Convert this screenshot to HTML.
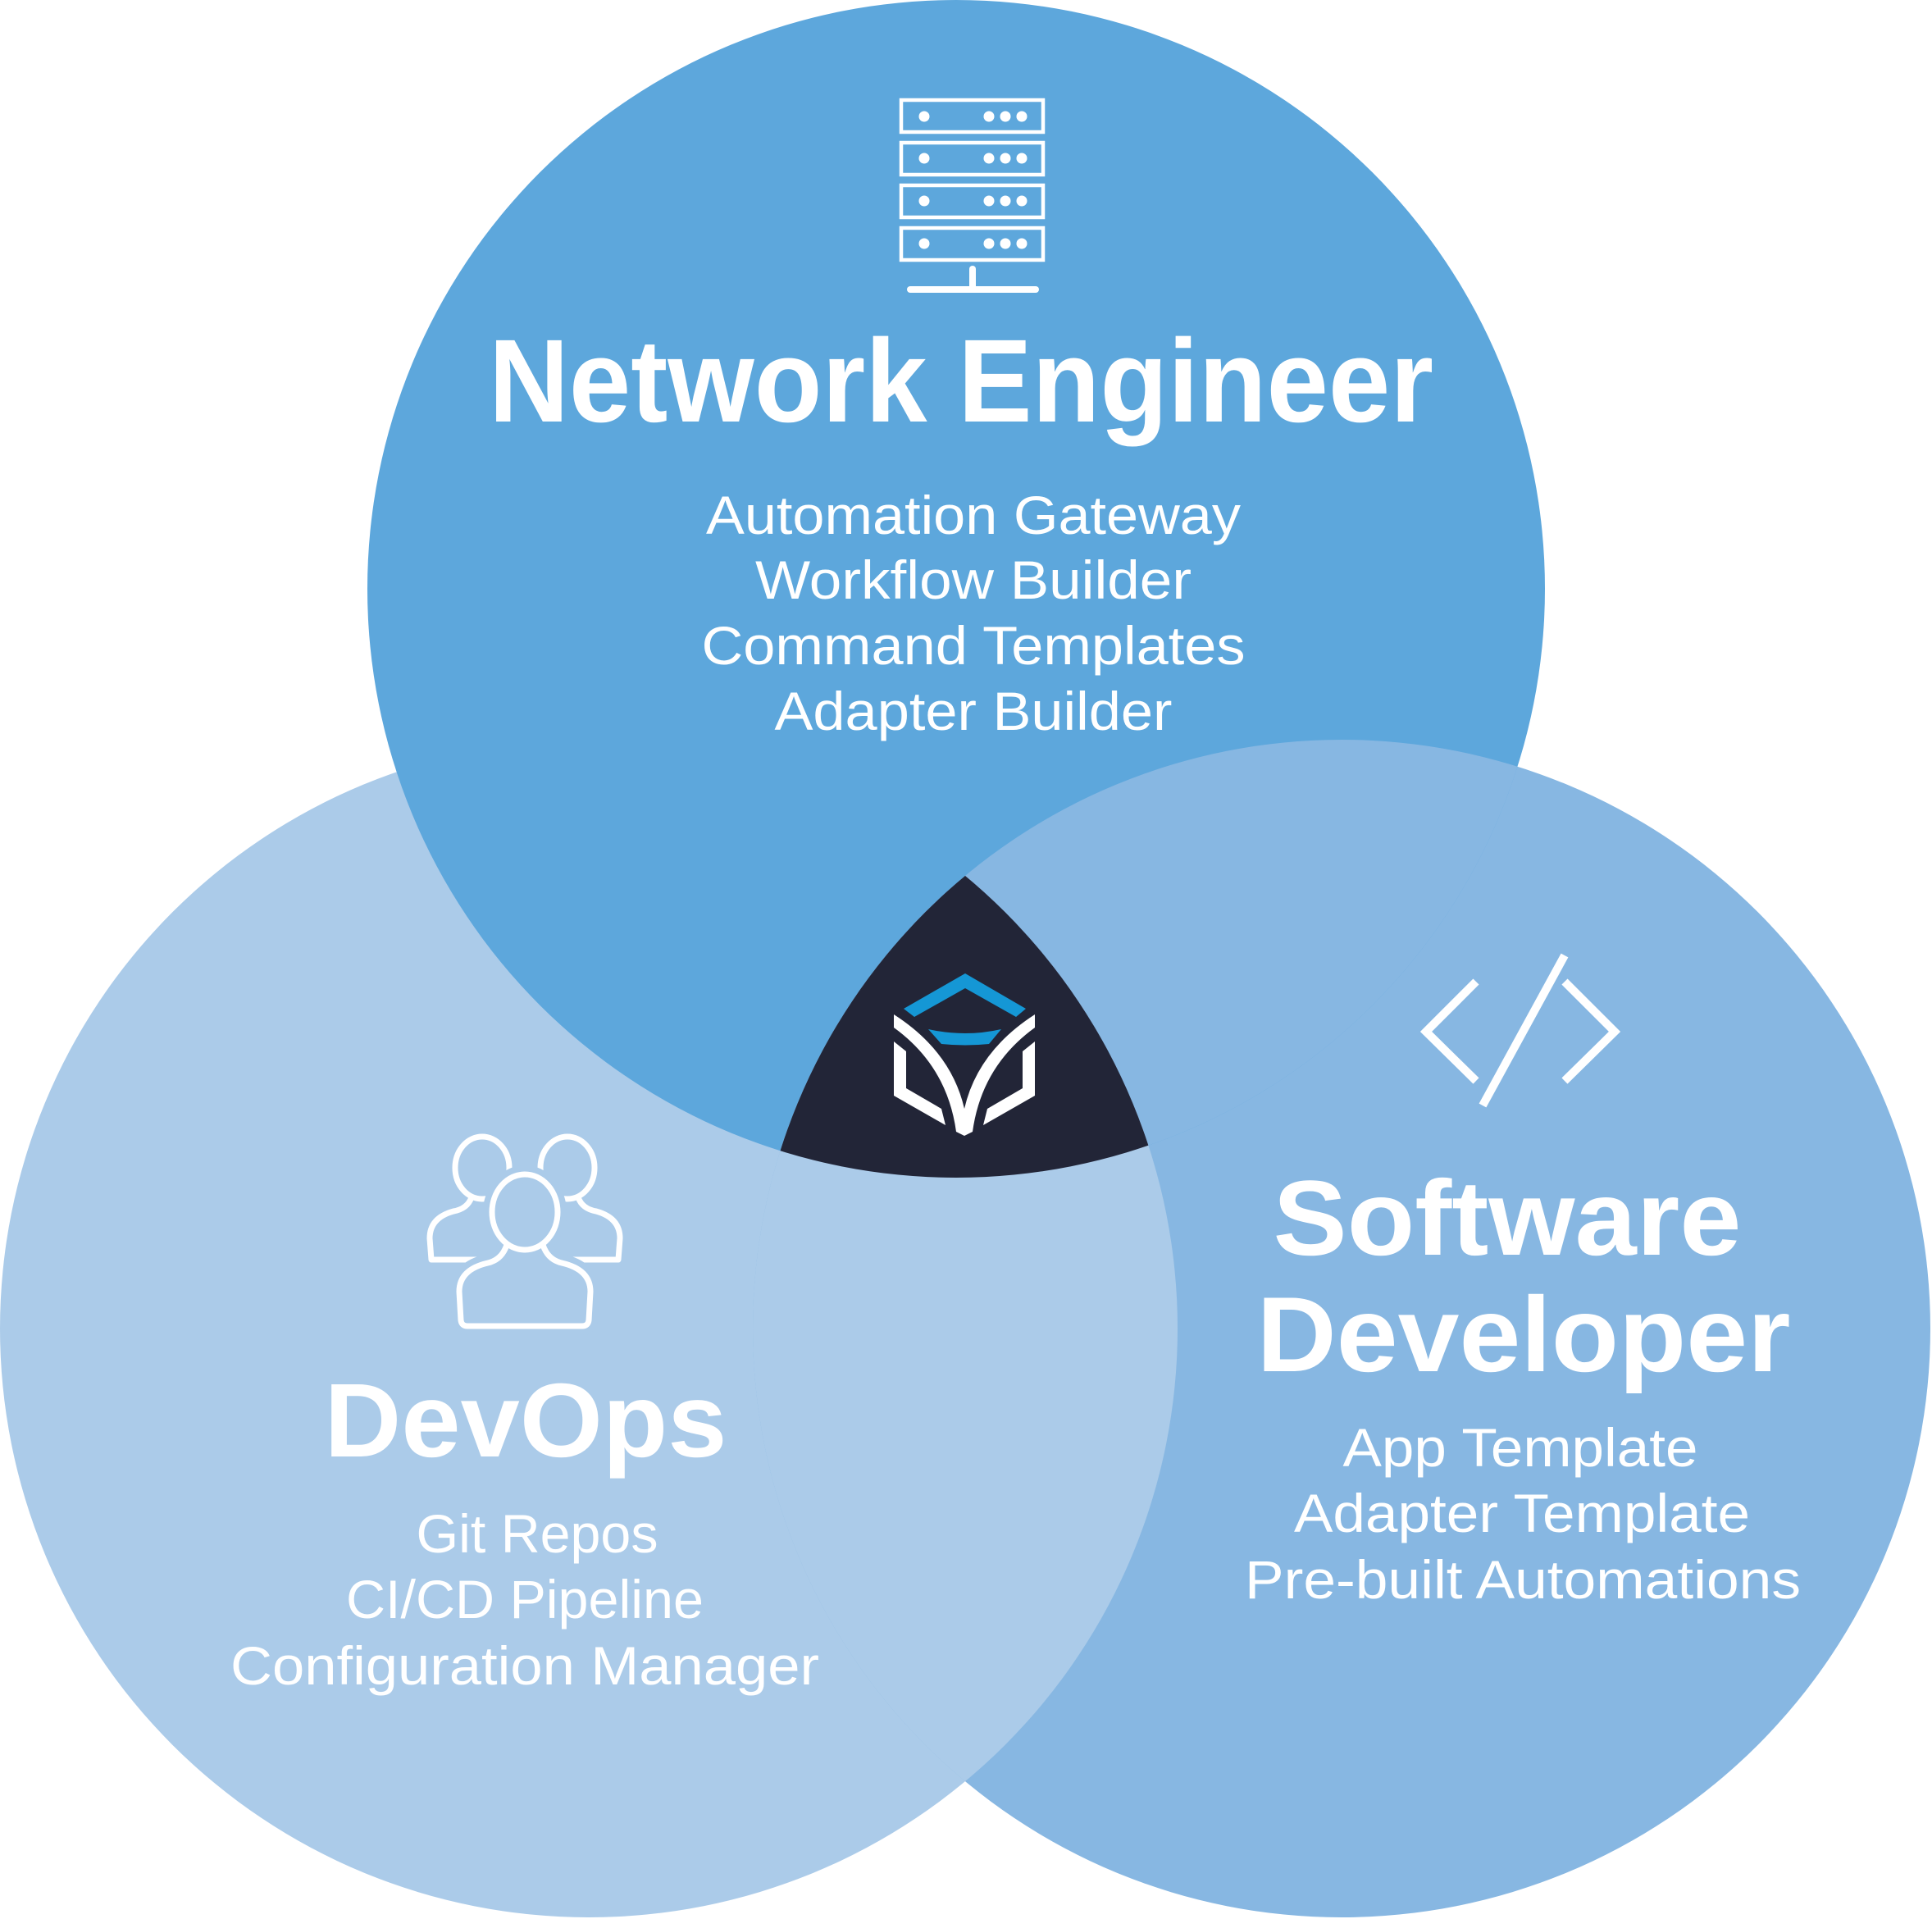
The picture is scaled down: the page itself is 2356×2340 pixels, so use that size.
<!DOCTYPE html>
<html><head><meta charset="utf-8"><style>
html,body{margin:0;padding:0;background:#fff;}
svg{display:block;}
text{font-family:"Liberation Sans",sans-serif;fill:#fff;}
</style></head><body>
<svg width="2356" height="2340" viewBox="0 0 2356 2340" xmlns="http://www.w3.org/2000/svg">
<defs>
<clipPath id="cTop"><circle cx="1166" cy="718" r="718"/></clipPath>
<clipPath id="cRight"><circle cx="1636" cy="1620" r="718"/></clipPath>
</defs>
<circle cx="718" cy="1620" r="718" fill="#ABCBE9"/>
<circle cx="1636" cy="1620" r="718" fill="#87B7E2"/>
<circle cx="1166" cy="718" r="718" fill="#5DA7DC"/>
<g clip-path="url(#cTop)"><circle cx="1636" cy="1620" r="718" fill="#87B7E2"/></g>
<g clip-path="url(#cRight)"><circle cx="718" cy="1620" r="718" fill="#ABCBE9"/></g>
<g clip-path="url(#cTop)"><g clip-path="url(#cRight)"><circle cx="718" cy="1620" r="718" fill="#222537"/></g></g>

<!-- server icon -->
<g fill="none" stroke="#fff" stroke-width="4.5">
<rect x="1099" y="122" width="173" height="39"/>
<rect x="1099" y="174" width="173" height="39"/>
<rect x="1099" y="226" width="173" height="39"/>
<rect x="1099" y="278" width="173" height="39"/>
</g>
<g fill="#fff">
<circle cx="1127" cy="142" r="6.5"/><circle cx="1206" cy="142" r="6.5"/><circle cx="1226" cy="142" r="6.5"/><circle cx="1246" cy="142" r="6.5"/>
<circle cx="1127" cy="193" r="6.5"/><circle cx="1206" cy="193" r="6.5"/><circle cx="1226" cy="193" r="6.5"/><circle cx="1246" cy="193" r="6.5"/>
<circle cx="1127" cy="245" r="6.5"/><circle cx="1206" cy="245" r="6.5"/><circle cx="1226" cy="245" r="6.5"/><circle cx="1246" cy="245" r="6.5"/>
<circle cx="1127" cy="297" r="6.5"/><circle cx="1206" cy="297" r="6.5"/><circle cx="1226" cy="297" r="6.5"/><circle cx="1246" cy="297" r="6.5"/>
</g>
<g stroke="#fff" stroke-width="8" stroke-linecap="round">
<line x1="1186" y1="328" x2="1186" y2="350"/>
<line x1="1110" y1="353" x2="1263" y2="353"/>
</g>

<text x="1172" y="514" font-size="144" font-weight="bold" text-anchor="middle" textLength="1152" lengthAdjust="spacingAndGlyphs">Network Engineer</text>
<g font-size="66" text-anchor="middle">
<text x="1187" y="651" textLength="652" lengthAdjust="spacingAndGlyphs">Automation Gateway</text>
<text x="1187" y="730" textLength="532" lengthAdjust="spacingAndGlyphs">Workflow Builder</text>
<text x="1187" y="810" textLength="663" lengthAdjust="spacingAndGlyphs">Command Templates</text>
<text x="1187" y="890" textLength="485" lengthAdjust="spacingAndGlyphs">Adapter Builder</text>
</g>

<!-- logo -->
<polygon points="1177,1187 1251,1230 1239,1240 1177,1205 1115,1240 1102,1230" fill="#1597D5"/>
<path d="M1132,1255 Q1177,1265 1221,1255 L1206,1273 Q1177,1276 1148,1273 Z" fill="#1597D5"/>
<path d="M1090,1237 L1090,1253 Q1155,1300 1166,1380 L1176,1385 L1186,1380 Q1197,1300 1262,1253 L1262,1237 Q1192,1282 1176,1352 Q1160,1282 1090,1237 Z" fill="#fff"/>
<path d="M1090,1270 L1105,1282 L1105,1327 L1148,1352 L1153,1372 L1090,1336 Z" fill="#fff"/>
<path d="M1262,1270 L1247,1282 L1247,1327 L1204,1352 L1199,1372 L1262,1336 Z" fill="#fff"/>

<!-- people icon -->
<g fill="none" stroke="#fff" stroke-width="7" stroke-linejoin="round">
<ellipse cx="588" cy="1424" rx="33" ry="38"/>
<path d="M575,1460 Q570,1474 553,1477 Q524,1485 524,1510 L526,1536 L620,1536"/>
<ellipse cx="692" cy="1424" rx="33" ry="38"/>
<path d="M705,1460 Q710,1474 727,1477 Q756,1485 756,1510 L754,1536 L660,1536"/>
</g>
<g fill="#ABCBE9" stroke="#ABCBE9" stroke-width="22" stroke-linejoin="round">
<ellipse cx="640" cy="1478" rx="40" ry="46"/>
<path d="M618,1518 Q612,1536 595,1540 Q560,1548 560,1575 L562,1610 Q563,1617 570,1617 L710,1617 Q717,1617 718,1610 L720,1575 Q720,1548 685,1540 Q668,1536 662,1518 Z"/>
</g>
<g fill="none" stroke="#fff" stroke-width="7" stroke-linejoin="round">
<ellipse cx="640" cy="1478" rx="40" ry="46"/>
<path d="M618,1518 Q612,1536 595,1540 Q560,1548 560,1575 L562,1610 Q563,1617 570,1617 L710,1617 Q717,1617 718,1610 L720,1575 Q720,1548 685,1540 Q668,1536 662,1518"/>
</g>

<text x="641" y="1776" font-size="128" font-weight="bold" text-anchor="middle" textLength="491" lengthAdjust="spacingAndGlyphs">DevOps</text>
<g font-size="66" text-anchor="middle">
<text x="655" y="1893" textLength="295" lengthAdjust="spacingAndGlyphs">Git Repos</text>
<text x="640" y="1973" textLength="436" lengthAdjust="spacingAndGlyphs">CI/CD Pipeline</text>
<text x="640" y="2054" textLength="718" lengthAdjust="spacingAndGlyphs">Configuration Manager</text>
</g>

<!-- code icon -->
<g fill="none" stroke="#fff" stroke-width="10" stroke-linecap="butt">
<polyline points="1800,1197 1739,1258 1800,1318"/>
<line x1="1908" y1="1165" x2="1808" y2="1348"/>
<polyline points="1908,1197 1969,1258 1908,1318"/>
</g>

<text x="1838" y="1530" font-size="130" font-weight="bold" text-anchor="middle" textLength="571" lengthAdjust="spacingAndGlyphs">Software</text>
<text x="1858" y="1672" font-size="130" font-weight="bold" text-anchor="middle" textLength="651" lengthAdjust="spacingAndGlyphs">Developer</text>
<g font-size="66" text-anchor="middle">
<text x="1854" y="1788" textLength="433" lengthAdjust="spacingAndGlyphs">App Template</text>
<text x="1856" y="1868" textLength="556" lengthAdjust="spacingAndGlyphs">Adapter Template</text>
<text x="1857" y="1949" textLength="678" lengthAdjust="spacingAndGlyphs">Pre-built Automations</text>
</g>
</svg>
</body></html>
